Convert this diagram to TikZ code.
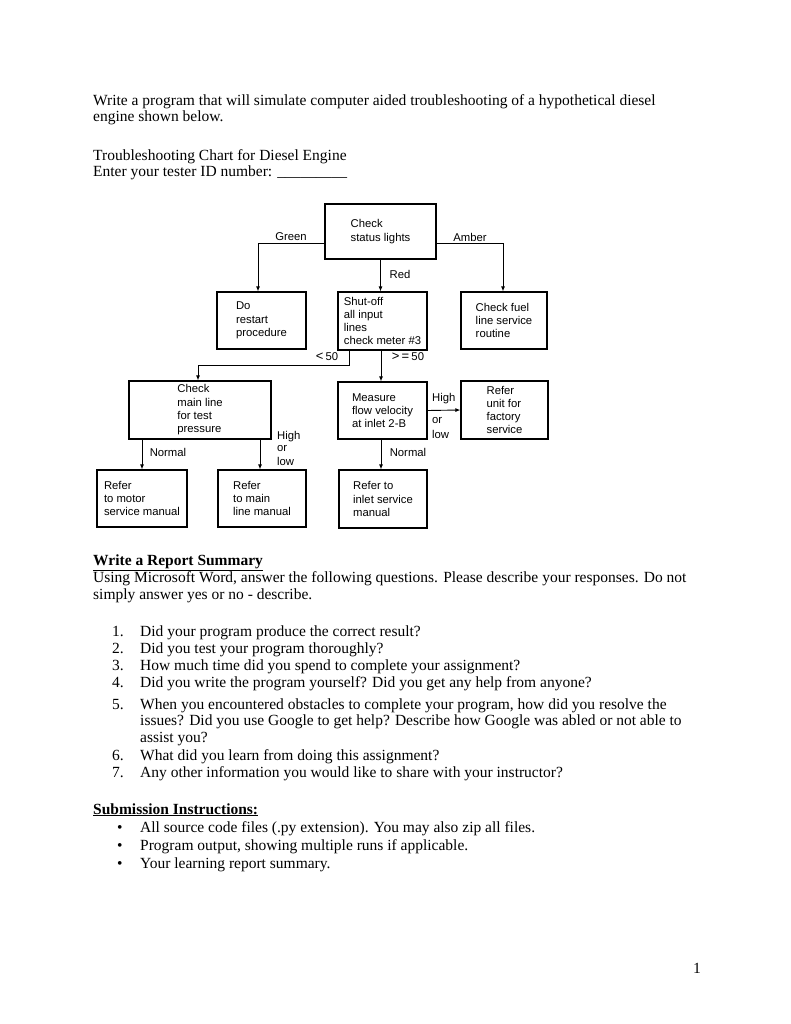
\documentclass[tikz,border=0pt]{standalone}
\usepackage{fontspec}
\setmainfont{Liberation Serif}
\newfontfamily\diagfont{Liberation Sans}
\usetikzlibrary{arrows.meta}
\begin{document}
\begin{tikzpicture}[x=1pt,y=-1pt,
 body/.style={anchor=base west, inner sep=0pt, font=\fontsize{15.5}{17}\selectfont},
 box/.style={draw, line width=1.2pt, align=left, inner sep=0pt, font=\diagfont\fontsize{11.3}{13.3}\selectfont},
 lab/.style={inner sep=0pt, font=\diagfont\fontsize{11.3}{12}\selectfont},
 arr/.style={line width=0.9pt, -{Latex[length=5pt,width=4pt]}}]
\useasboundingbox[fill=white] (0,0) rectangle (791,1024);

% intro text
\node[body] (t1) at (93,106) {Write a program that will simulate computer aided troubleshooting of a hypothetical diesel};
\node[body] (t2) at (93,122) {engine shown below.};
\node[body] (t3) at (93,161) {Troubleshooting Chart for Diesel Engine};
\node[body] (t4) at (93,177) {Enter your tester ID number: \_\_\_\_\_\_\_\_\_};

% diagram boxes
\node[box, minimum width=111pt, minimum height=55pt] (cs) at (380.5,231.5) {Check\\status lights};
\node[box, minimum width=89pt, minimum height=57pt] (dr) at (261.5,320.5) {Do\\restart\\procedure};
\node[box, minimum width=89pt, minimum height=58pt] (so) at (382.5,321) {Shut-off\\all input\\lines\\check meter \#3};
\node[box, minimum width=86pt, minimum height=57pt] (cf) at (504,320.5) {Check fuel\\line service\\routine};
\node[box, minimum width=142pt, minimum height=58pt] (cm) at (200,410) {Check\\main line\\for test\\pressure};
\node[box, minimum width=89pt, minimum height=57pt] (mf) at (382.5,410.5) {Measure\\flow velocity\\at inlet 2-B};
\node[box, minimum width=87pt, minimum height=58pt] (ru) at (504.5,410) {Refer\\unit for\\factory\\service};
\node[box, minimum width=90pt, minimum height=57pt] (rm) at (142,498.5) {Refer\\to motor\\service manual};
\node[box, minimum width=88pt, minimum height=57pt] (rl) at (262,498.5) {Refer\\to main\\line manual};
\node[box, minimum width=88pt, minimum height=58pt] (ri) at (383,499) {Refer to\\inlet service\\manual};

% connectors
\draw[arr] ([yshift=-12pt]cs.west) -| ([xshift=-3.5pt]dr.north);
\draw[arr] ([yshift=-12pt]cs.east) -| ([xshift=-1pt]cf.north);
\draw[arr] (cs.south) -- (cs.south |- so.north);
\draw[arr] ([xshift=-33.5pt]so.south) -- ++(0,15) -| ([xshift=-2pt]cm.north);
\draw[arr] ([xshift=-1.5pt]so.south) -- ([xshift=-1.5pt]so.south |- mf.north);
\draw[arr] (mf.east) -- (ru.west);
\draw[arr] ([xshift=-1.5pt]mf.south) -- ([xshift=-1.5pt]mf.south |- ri.north);
\draw[arr] (rm.north |- cm.south) -- (rm.north);
\draw[arr] ([xshift=-2pt]rl.north |- cm.south) -- ([xshift=-2pt]rl.north);

% connector labels
\node[lab] (lg) at (291,237) {Green};
\node[lab] (la) at (470,237) {Amber};
\node[lab] (lr) at (400,274) {Red};
\node[lab] (llt) at (327,357) {\fontsize{13}{13}\selectfont<\,\fontsize{11.3}{12}\selectfont50};
\node[lab] (lge) at (408,357) {\fontsize{13}{13}\selectfont>\,=\,\fontsize{11.3}{12}\selectfont50};
\node[lab] (ln1) at (168,452) {Normal};
\node[lab, anchor=west] (lh1) at (277,437) {High};
\node[lab, anchor=west] (lo1) at (277,449) {or};
\node[lab, anchor=west] (lw1) at (277,461) {low};
\node[lab, anchor=west] (lh2) at (432,399) {High};
\node[lab, anchor=west] (lo2) at (432,421) {or};
\node[lab, anchor=west] (lw2) at (432,434) {low};
\node[lab] (ln2) at (408,452) {Normal};

% report summary
\node[body] (h1) at (93,565) {\textbf{\underline{Write a Report Summary}}};
\node[body] (u1) at (93,582) {Using Microsoft Word, answer the following questions. Please describe your responses. Do not};
\node[body] (u2) at (93,599) {simply answer yes or no - describe.};

\node[body] (n1) at (112,636) {1.};
\node[body] (q1) at (140,636) {Did your program produce the correct result?};
\node[body] (n2) at (112,653) {2.};
\node[body] (q2) at (140,653) {Did you test your program thoroughly?};
\node[body] (n3) at (112,670) {3.};
\node[body] (q3) at (140,670) {How much time did you spend to complete your assignment?};
\node[body] (n4) at (112,687) {4.};
\node[body] (q4) at (140,687) {Did you write the program yourself? Did you get any help from anyone?};
\node[body] (n5) at (112,709) {5.};
\node[body] (q5) at (140,709) {When you encountered obstacles to complete your program, how did you resolve the};
\node[body] (q5b) at (140,725) {issues? Did you use Google to get help? Describe how Google was abled or not able to};
\node[body] (q5c) at (140,742) {assist you?};
\node[body] (n6) at (112,760) {6.};
\node[body] (q6) at (140,760) {What did you learn from doing this assignment?};
\node[body] (n7) at (112,777) {7.};
\node[body] (q7) at (140,777) {Any other information you would like to share with your instructor?};

% submission
\node[body] (h2) at (93,814) {\textbf{\underline{Submission Instructions:}}};
\node[body] (b1) at (117,832) {\textbullet};
\node[body] (s1) at (140,832) {All source code files (.py extension). You may also zip all files.};
\node[body] (b2) at (117,850) {\textbullet};
\node[body] (s2) at (140,850) {Program output, showing multiple runs if applicable.};
\node[body] (b3) at (117,868) {\textbullet};
\node[body] (s3) at (140,868) {Your learning report summary.};

\node[body] (pg) at (693,973) {1};
\end{tikzpicture}
\end{document}
